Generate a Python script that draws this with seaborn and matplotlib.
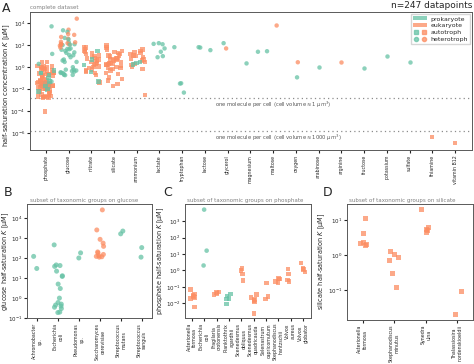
"""
Half-saturation constants K across nutrients and taxonomic subsets.
"""

import numpy as np
import pandas as pd
import matplotlib
matplotlib.use("Agg")
import matplotlib.pyplot as plt
import seaborn as sns
from matplotlib.patches import Patch
from matplotlib.lines import Line2D
from matplotlib.legend_handler import HandlerTuple

PROK = "#66c2a5"
EUK = "#fc8d62"

# ---- panel B: glucose subset (K in uM)
achromobacter_glc = [120, 30]
ecoli_glc = [450, 45, 42, 38, 22, 13, 12, 5, 3, 1.0, 0.6, 0.5, 0.45, 0.4, 0.35, 0.3, 0.2, 0.19]
pseudomonas_glc = [180, 100]
yeast_glc = [25000, 2500, 850, 550, 380, 200, 180, 150, 130, 120, 115, 110]
mutans_glc = [2200, 1600]
sanguis_glc = [330, 110]

# ---- panel C: phosphate subset
asterionella_p = [0.07, 0.038, 0.03, 0.025, 0.022, 0.02, 0.006]
ecoli_p = [5000, 16, 2]
fragilaria_p = [0.05, 0.045, 0.04, 0.035]
planktothrix_p = [0.037, 0.028, 0.02, 0.018, 0.009]
obliquus_p = [1.3, 1.0, 0.6, 0.25]
quadricauda_p = [0.035, 0.022, 0.017, 0.015, 0.012, 0.0025]
selenastrum_p = [0.17, 0.025, 0.018]
hantzschii_p = [0.33, 0.3, 0.22, 0.18]
aureus_p = [1.2, 0.6, 0.27, 0.22]
globator_p = [2.8, 1.3, 1.1, 0.8]

# ---- panel D: silicate subset
asterionella_si = [11, 4, 2.2, 2.1, 2.0, 1.8]
minutus_si = [1.25, 1.0, 0.87, 0.67, 0.3, 0.12]
synedra_si = [20, 6, 5.5, 5, 4.5]
thalassiosira_si = [0.09, 0.02]

# ---- panel A: remaining entries of the complete dataset
phosphate_ea = [1e-4, 3, 0.9, 0.7, 0.5, 0.4, 0.15, 0.1, 0.08, 0.06, 0.05, 0.03, 0.015,
                0.012, 0.01, 0.008, 0.005, 0.004, 0.003, 0.002, 0.0018, 0.0018,
                0.0019, 0.002, 0.0025, 0.0022, 0.0035]
phosphate_pa = [0.5, 0.3, 0.2, 0.1, 0.05, 0.02, 0.01, 0.006]
phosphate_ph = [0.3, 0.05]
glucose_ph = [50, 20, 8, 4, 3, 0.6, 0.3, 0.25, 0.2]
glucose_eh = [1000, 90, 60]
nitrate_ea = [70, 60, 45, 30, 25, 20, 15, 12, 10, 8, 7, 6, 5, 4, 3.5, 3, 2.5, 2, 1.5,
              1.2, 1, 0.8, 0.6, 0.5, 0.4, 0.3, 0.2, 0.04]
nitrate_pa = [30, 5, 1.5, 0.35, 0.05]
silicate_ea = [90, 60, 40, 30, 25, 15, 12, 9, 7, 3, 2.5, 1.5, 0.8, 0.5, 0.25, 0.06, 0.03]
ammonium_ea = [40, 30, 25, 20, 15, 12, 10, 8, 6, 5, 4, 3, 2, 1.5, 1, 0.7, 0.003]
ammonium_pa = [3, 2.5, 1.8]
lactate_ph = [150, 130, 120, 50, 25, 10, 8]
tryptophan_ph = [65, 0.035, 0.033, 0.005]
lactose_ph = [65, 60, 35]
glycerol_ph = [150]
glycerol_eh = [50]
magnesium_ph = [25, 2.2]
maltose_ph = [28]
maltose_eh = [6000]
oxygen_ph = [0.12]
oxygen_eh = [2.8]
arabinose_ph = [1.0]
arginine_eh = [2.8]
fructose_ph = [0.8]
potassium_ph = [10]
sulfate_ph = [2.8]
thiamine_ea = [5e-7]
vitamin_b12_ea = [1.3e-7]

nutrients = ["phosphate", "glucose", "nitrate", "silicate", "ammonium", "lactate",
             "tryptophan", "lactose", "glycerol", "magnesium", "maltose", "oxygen",
             "arabinose", "arginine", "fructose", "potassium", "sulfate", "thiamine",
             "vitamin B12"]
glc_taxa = ["Achromobacter\nsp.", "Escherichia\ncoli", "Pseudomonas\nsp.",
            "Saccharomyces\ncerevisiae", "Streptococcus\nmutans", "Streptococcus\nsanguis"]
p_taxa = ["Asterionella\nformosa", "Escherichia\ncoli", "Fragilaria\ncrotonensis",
          "Planktothrix\nagardhii", "Scenedesmus\nobliquus", "Scenedesmus\nquadricauda",
          "Selenastrum\ncapricornutum", "Stephanodiscus\nhantzschii", "Volvox\naureus",
          "Volvox\nglobator"]
si_taxa = ["Asterionella\nformosa", "Stephanodiscus\nminutus", "Synedra\nulna",
           "Thalassiosira\nnordenskioeldii"]

GROUPS = {"PA": ("prokaryote", "autotroph"), "PH": ("prokaryote", "heterotroph"),
          "EA": ("eukaryote", "autotroph"), "EH": ("eukaryote", "heterotroph")}


def rows(label, values, group):
    domain, mode = GROUPS[group]
    return [{"x": label, "K": v, "domain": domain, "mode": mode} for v in values]


glc_rows = (rows(glc_taxa[0], achromobacter_glc, "PH") + rows(glc_taxa[1], ecoli_glc, "PH")
            + rows(glc_taxa[2], pseudomonas_glc, "PH") + rows(glc_taxa[3], yeast_glc, "EH")
            + rows(glc_taxa[4], mutans_glc, "PH") + rows(glc_taxa[5], sanguis_glc, "PH"))
p_rows = (rows(p_taxa[0], asterionella_p, "EA") + rows(p_taxa[1], ecoli_p, "PH")
          + rows(p_taxa[2], fragilaria_p, "EA") + rows(p_taxa[3], planktothrix_p, "PA")
          + rows(p_taxa[4], obliquus_p, "EA") + rows(p_taxa[5], quadricauda_p, "EA")
          + rows(p_taxa[6], selenastrum_p, "EA") + rows(p_taxa[7], hantzschii_p, "EA")
          + rows(p_taxa[8], aureus_p, "EA") + rows(p_taxa[9], globator_p, "EA"))
si_rows = (rows(si_taxa[0], asterionella_si, "EA") + rows(si_taxa[1], minutus_si, "EA")
           + rows(si_taxa[2], synedra_si, "EA") + rows(si_taxa[3], thalassiosira_si, "EA"))

df_glc = pd.DataFrame(glc_rows)
df_p = pd.DataFrame(p_rows)
df_si = pd.DataFrame(si_rows)

extra = (rows("phosphate", phosphate_ea, "EA") + rows("phosphate", phosphate_pa, "PA")
         + rows("phosphate", phosphate_ph, "PH")
         + rows("glucose", glucose_ph, "PH") + rows("glucose", glucose_eh, "EH")
         + rows("nitrate", nitrate_ea, "EA") + rows("nitrate", nitrate_pa, "PA")
         + rows("silicate", silicate_ea, "EA")
         + rows("ammonium", ammonium_ea, "EA") + rows("ammonium", ammonium_pa, "PA")
         + rows("lactate", lactate_ph, "PH") + rows("tryptophan", tryptophan_ph, "PH")
         + rows("lactose", lactose_ph, "PH") + rows("glycerol", glycerol_ph, "PH")
         + rows("glycerol", glycerol_eh, "EH") + rows("magnesium", magnesium_ph, "PH")
         + rows("maltose", maltose_ph, "PH") + rows("maltose", maltose_eh, "EH")
         + rows("oxygen", oxygen_ph, "PH") + rows("oxygen", oxygen_eh, "EH")
         + rows("arabinose", arabinose_ph, "PH") + rows("arginine", arginine_eh, "EH")
         + rows("fructose", fructose_ph, "PH") + rows("potassium", potassium_ph, "PH")
         + rows("sulfate", sulfate_ph, "PH") + rows("thiamine", thiamine_ea, "EA")
         + rows("vitamin B12", vitamin_b12_ea, "EA"))
df_all = pd.concat([df_p.assign(x="phosphate"), df_glc.assign(x="glucose"),
                    df_si.assign(x="silicate"), pd.DataFrame(extra)], ignore_index=True)

sns.set_style("ticks")
plt.rcParams["font.family"] = ["DejaVu Sans"]
np.random.seed(3)

palette = {"prokaryote": PROK, "eukaryote": EUK}


def strip(ax, df, order, jitter, size):
    ax.set_yscale("log")
    for mode, marker in [("autotroph", "s"), ("heterotroph", "o")]:
        sub = df[df["mode"] == mode]
        if sub.empty:
            continue
        sns.stripplot(data=sub, x="x", y="K", hue="domain", order=order,
                      hue_order=["prokaryote", "eukaryote"], palette=palette,
                      marker=marker, jitter=jitter, size=size, alpha=0.75,
                      linewidth=0, ax=ax, legend=False)
    ax.set_xlabel("")
    ax.tick_params(axis="x", labelrotation=90, labelsize=3.4, length=2, pad=1.5)
    ax.tick_params(axis="y", labelsize=4.0, length=2, pad=1.5)
    ax.minorticks_off()
    for s in ax.spines.values():
        s.set_color("0.35")
        s.set_linewidth(0.7)


fig = plt.figure(figsize=(4.74, 3.64), dpi=100)
axA = fig.add_axes([0.063, 0.588, 0.933, 0.379])
axB = fig.add_axes([0.057, 0.126, 0.264, 0.314])
axC = fig.add_axes([0.390, 0.126, 0.266, 0.314])
axD = fig.add_axes([0.732, 0.121, 0.266, 0.319])

# ---- A
strip(axA, df_all, nutrients, 0.38, 3.2)
axA.set_xlim(-0.7, len(nutrients) - 0.25)
axA.set_ylim(10 ** -7.5, 10 ** 5.0)
axA.set_yticks([1e-6, 1e-4, 1e-2, 1e0, 1e2, 1e4])
axA.minorticks_off()
axA.set_ylabel(r"half-saturation concentration $K$ [µM]", fontsize=4.9)
axA.yaxis.set_label_coords(-0.041, 0.47)
one_um3 = 1 / 6.022e23 / 1e-15 * 1e6      # µM for one molecule in 1 µm³
one_1000 = one_um3 / 1000
for val, lab in [(one_um3, r"one molecule per cell (cell volume$\approx 1\ \mu m^3$)"),
                 (one_1000, r"one molecule per cell (cell volume$\approx 1000\ \mu m^3$)")]:
    axA.axhline(val, color="0.55", lw=0.9, ls=(0, (1, 2.5)))
    axA.text(0.419, val / 1.5, lab, transform=axA.get_yaxis_transform(),
             fontsize=3.8, color="0.35", va="top", ha="left")
axA.text(0.0, 1.015, "complete dataset", transform=axA.transAxes,
         fontsize=4, color="0.5", ha="left", va="bottom")
axA.text(1.0, 1.012, "n=247 datapoints", transform=axA.transAxes,
         fontsize=6.5, ha="right", va="bottom")

handles = [Patch(facecolor=PROK, alpha=0.75, lw=0), Patch(facecolor=EUK, alpha=0.75, lw=0),
           (Line2D([], [], ls="", marker="s", color=PROK, alpha=0.75, ms=3),
            Line2D([], [], ls="", marker="s", color=EUK, alpha=0.75, ms=3)),
           (Line2D([], [], ls="", marker="o", color=PROK, alpha=0.75, ms=3),
            Line2D([], [], ls="", marker="o", color=EUK, alpha=0.75, ms=3))]
axA.legend(handles, ["prokaryote", "eukaryote", "autotroph", "heterotroph"],
           handler_map={tuple: HandlerTuple(ndivide=None, pad=0.3)},
           loc="upper right", fontsize=4.5, frameon=True, handlelength=2.2,
           handleheight=0.6, borderpad=0.4, labelspacing=0.25, handletextpad=0.5,
           edgecolor="0.8", fancybox=False, borderaxespad=0.3)

# ---- B
strip(axB, df_glc, glc_taxa, 0.2, 3.6)
axB.set_ylim(10 ** -1, 10 ** 4.7)
axB.set_yticks([1e-1, 1e0, 1e1, 1e2, 1e3, 1e4])
axB.minorticks_off()
axB.set_ylabel(r"glucose half-saturation $K$ [µM]", fontsize=4.7)
axB.yaxis.set_label_coords(-0.125, 0.5)
axB.text(0.02, 1.01, "subset of taxonomic groups on glucose", transform=axB.transAxes,
         fontsize=4, color="0.5", ha="left", va="bottom")

# ---- C
strip(axC, df_p, p_taxa, 0.25, 3.3)
axC.set_xlim(-0.57, len(p_taxa) - 0.35)
axC.set_ylim(10 ** -2.9, 10 ** 4.05)
axC.set_yticks([1e-2, 1e-1, 1e0, 1e1, 1e2, 1e3])
axC.minorticks_off()
axC.set_ylabel(r"phosphate half-saturation $K$ [µM]", fontsize=4.7)
axC.yaxis.set_label_coords(-0.15, 0.5)
axC.text(0.02, 1.01, "subset of taxonomic groups on phosphate", transform=axC.transAxes,
         fontsize=4, color="0.5", ha="left", va="bottom")

# ---- D
strip(axD, df_si, si_taxa, 0.15, 3.6)
axD.set_ylim(10 ** -1.86, 10 ** 1.46)
axD.set_yticks([1e-1, 1e0, 1e1])
axD.minorticks_off()
axD.set_ylabel(r"silicate half-saturation $K$ [µM]", fontsize=4.7)
axD.yaxis.set_label_coords(-0.16, 0.5)
axD.text(0.02, 1.01, "subset of taxonomic groups on silicate", transform=axD.transAxes,
         fontsize=4, color="0.5", ha="left", va="bottom")

for lab, x, y in [("A", 0.005, 0.995), ("B", 0.008, 0.49), ("C", 0.345, 0.49),
                  ("D", 0.68, 0.49)]:
    fig.text(x, y, lab, fontsize=9, ha="left", va="top")

fig.savefig("out.png", dpi=100)
